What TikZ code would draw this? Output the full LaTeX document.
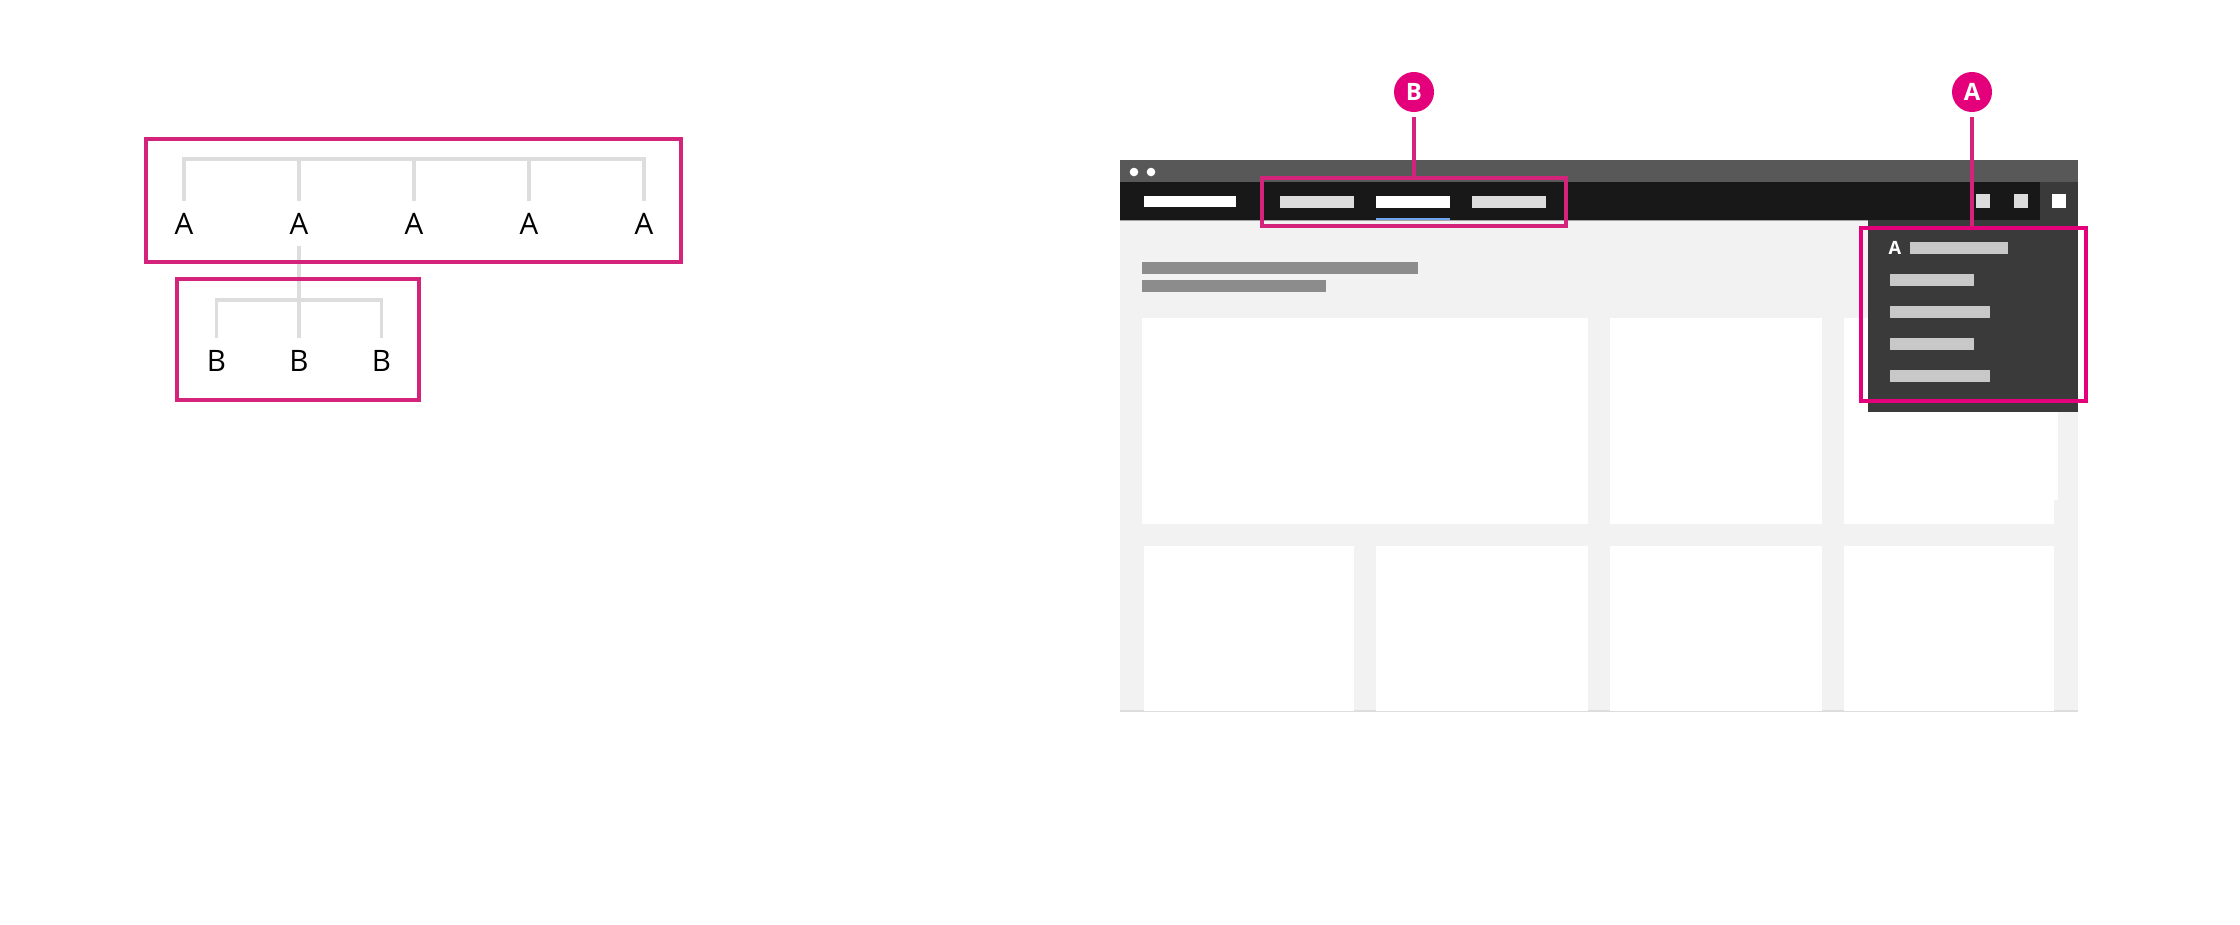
\documentclass[tikz,border=0pt]{standalone}
\usepackage{fontspec}
\setmainfont{Open Sans}
\usepackage{xcolor}
\definecolor{hlpink}{RGB}{212,35,122}
\definecolor{badgepink}{RGB}{227,0,122}
\definecolor{treegray}{RGB}{221,221,221}
\definecolor{titlegray}{RGB}{88,88,88}
\definecolor{navblack}{RGB}{24,24,24}
\definecolor{menugray}{RGB}{58,58,58}
\definecolor{pagegray}{RGB}{242,242,242}
\definecolor{blankgray}{RGB}{140,140,140}
\definecolor{itemgray}{RGB}{200,200,200}
\definecolor{tabgray}{RGB}{220,220,220}
\definecolor{tabblue}{RGB}{110,166,240}

\begin{document}
\begin{tikzpicture}[x=0.01cm, y=-0.01cm,
  tree/.style={line width=1.1pt, draw=treegray},
  lbl/.style={anchor = base, inner xsep=0pt, inner ysep=3.1pt, font=\fontsize{8.4}{10}\selectfont},
  hlbox/.style={draw=hlpink, line width=1.15pt, inner sep=0pt},
  badge/.style={circle, fill=badgepink, minimum size=0.40cm, inner sep=0pt, outer sep=1.4pt,
    text=white, font=\bfseries\fontsize{6.8}{8}\selectfont},
  pointer/.style={draw=hlpink, line width=1.15pt}]
\useasboundingbox (0,0) rectangle (2240,924);
%% tree of labels
\foreach \i in {1,...,5}
  \node [lbl] (a\i) at ({184+115*(\i-1)},234) {A};
\foreach \i in {1,2,3}
  \node [lbl] (b\i) at ({216.5+82.5*(\i-1)},371) {B};
\coordinate (abar) at (0,159);
\coordinate (bbar) at (0,300);
\draw [tree] (a1.north) -- (a1.north |- abar) -- (a5.north |- abar) -- (a5.north);
\foreach \i in {2,3,4}
  \draw [tree] (a\i.north) -- (a\i.north |- abar);
\draw [tree] (b1.north) -- (b1.north |- bbar) -- (b3.north |- bbar) -- (b3.north);
\draw [tree] (a2.south) -- (a2.south |- b2.north);
\node [hlbox, minimum width=5.345cm, minimum height=1.23cm] (levelA) at (413.75,200.5) {};
\node [hlbox, minimum width=2.415cm, minimum height=1.21cm] (levelB) at (297.75,339.5) {};
%% browser window
\fill [titlegray] (1120,160) rectangle (2078,182);
\fill [navblack] (1120,182) rectangle (2040,220);
\fill [menugray] (2040,182) rectangle (2078,220);
\fill [white] (1134,172) circle (4.3) (1151,172) circle (4.3);
\fill [pagegray] (1120,220) rectangle (2078,711);
\draw [blankgray!80, line width=0.3pt] (1120,220.5) -- (2040,220.5);
\draw [treegray, line width=0.4pt] (1120,711) -- (2078,711);
%% nav bar
\fill [white] (1144,196) rectangle (1236,207);
\fill [tabgray] (1280,196) rectangle (1354,208);
\fill [white] (1376,196) rectangle (1450,208);
\fill [tabblue] (1376,218) rectangle (1450,220);
\fill [tabgray] (1472,196) rectangle (1546,208);
\fill [tabgray] (1976,194) rectangle (1990,208);
\fill [tabgray] (2014,194) rectangle (2028,208);
\fill [white] (2052,194) rectangle (2066,208);
%% page content
\fill [blankgray] (1142,262) rectangle (1418,274);
\fill [blankgray] (1142,280) rectangle (1326,292);
\fill [white] (1142,318) rectangle (1588,524);
\fill [white] (1610,318) rectangle (1822,524);
\fill [white] (1844,318) rectangle (2054,524);
\fill [white] (2054,318) rectangle (2058,500);
\fill [white] (1144,546) rectangle (1354,711);
\fill [white] (1376,546) rectangle (1588,711);
\fill [white] (1610,546) rectangle (1822,711);
\fill [white] (1844,546) rectangle (2054,711);
%% dropdown menu
\fill [menugray] (1868,220) rectangle (2078,412);
\node [anchor = base west, inner sep=0pt, text=white, font=\bfseries\fontsize{5.2}{6}\selectfont] (menuA) at (1888,254) {A};
\fill [itemgray] (1910,242) rectangle (2008,254);
\foreach \k/\w in {0/84, 1/100, 2/84, 3/100}
  \fill [itemgray] (1890,{274+32*\k}) rectangle ({1890+\w},{286+32*\k});
%% highlights
\node [hlbox, minimum width=3.04cm, minimum height=0.48cm] (navbox) at (1414,202) {};
\node [hlbox, draw=badgepink, minimum width=2.25cm, minimum height=1.73cm] (menubox) at (1973.5,314.5) {};
\node [badge] (badgeB) at (1414,92) {B};
\node [badge] (badgeA) at (1972,92) {A};
\draw [pointer] (badgeB.south) -- (navbox.north);
\draw [pointer] (badgeA.south) -- (badgeA.south |- menubox.north);
\end{tikzpicture}
\end{document}
